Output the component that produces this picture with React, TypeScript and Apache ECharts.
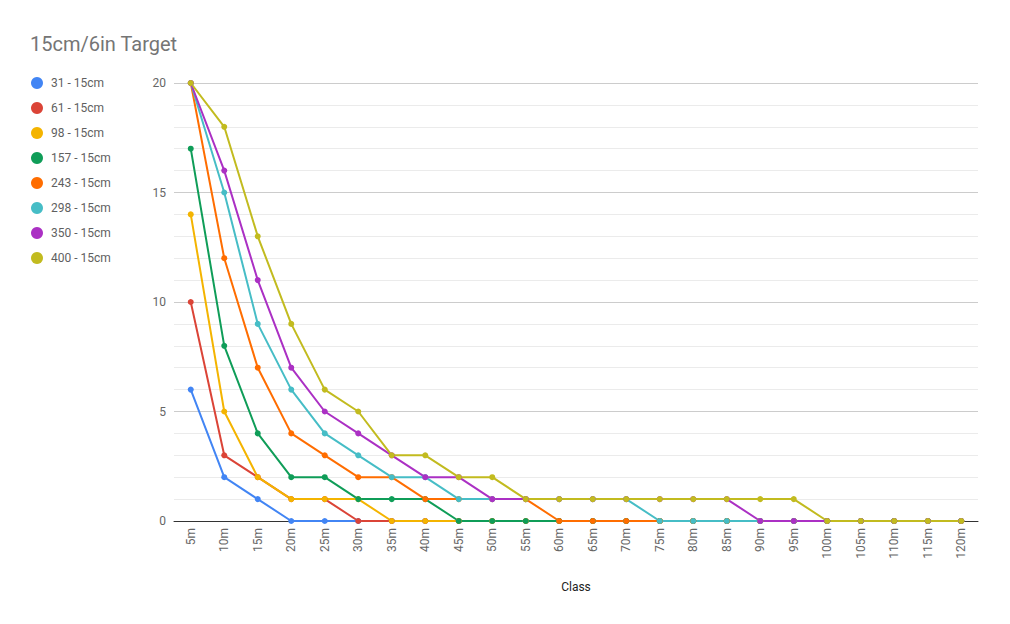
import { useEffect, useRef } from "react";
import * as echarts from "echarts";

const CATEGORIES = [
  "5m", "10m", "15m", "20m", "25m", "30m", "35m", "40m", "45m", "50m", "55m", "60m",
  "65m", "70m", "75m", "80m", "85m", "90m", "95m", "100m", "105m", "110m", "115m", "120m",
];

const SERIES_NAMES = [
  "31 - 15cm", "61 - 15cm", "98 - 15cm", "157 - 15cm",
  "243 - 15cm", "298 - 15cm", "350 - 15cm", "400 - 15cm",
];

const S31 = [6, 2, 1, 0, 0, 0, 0, 0, 0, 0, 0, 0, 0, 0, 0, 0, 0, 0, 0, 0, 0, 0, 0, 0];
const S61 = [10, 3, 2, 1, 1, 0, 0, 0, 0, 0, 0, 0, 0, 0, 0, 0, 0, 0, 0, 0, 0, 0, 0, 0];
const S98 = [14, 5, 2, 1, 1, 1, 0, 0, 0, 0, 0, 0, 0, 0, 0, 0, 0, 0, 0, 0, 0, 0, 0, 0];
const S157 = [17, 8, 4, 2, 2, 1, 1, 1, 0, 0, 0, 0, 0, 0, 0, 0, 0, 0, 0, 0, 0, 0, 0, 0];
const S243 = [20, 12, 7, 4, 3, 2, 2, 1, 1, 1, 1, 0, 0, 0, 0, 0, 0, 0, 0, 0, 0, 0, 0, 0];
const S298 = [20, 15, 9, 6, 4, 3, 2, 2, 1, 1, 1, 1, 1, 1, 0, 0, 0, 0, 0, 0, 0, 0, 0, 0];
const S350 = [20, 16, 11, 7, 5, 4, 3, 2, 2, 1, 1, 1, 1, 1, 1, 1, 1, 0, 0, 0, 0, 0, 0, 0];
const S400 = [20, 18, 13, 9, 6, 5, 3, 3, 2, 2, 1, 1, 1, 1, 1, 1, 1, 1, 1, 0, 0, 0, 0, 0];

const SERIES_VALUES = [S31, S61, S98, S157, S243, S298, S350, S400];

// google sheets palette
const COLORS = [
  "#4285f4", "#db4437", "#f4b400", "#0f9d58",
  "#ff6d00", "#46bdc6", "#ab30c4", "#c2bb1f",
];

const FONT = "Roboto, 'Noto Sans', sans-serif";

function buildOption(): echarts.EChartsOption {
  return {
    animation: false,
    color: COLORS,
    textStyle: { fontFamily: FONT },
    title: {
      text: "15cm/6in Target",
      left: 25,
      top: 29,
      textStyle: { fontSize: 20, fontWeight: "normal", color: "#757575", fontFamily: FONT },
    },
    legend: {
      orient: "vertical",
      left: 26,
      top: 72,
      icon: "circle",
      itemWidth: 12,
      itemHeight: 12,
      itemGap: 13,
      data: SERIES_NAMES,
      textStyle: { fontSize: 12, color: "#5f5f5f", padding: [0, 0, 0, 3] },
    },
    grid: { left: 174, right: 32, top: 83, bottom: 103 },
    xAxis: {
      type: "category",
      data: CATEGORIES,
      boundaryGap: true,
      name: "Class",
      nameLocation: "middle",
      nameGap: 60,
      nameTextStyle: { fontSize: 12, color: "#222222" },
      axisLine: { show: true, lineStyle: { color: "#333333", width: 1 } },
      axisTick: { show: false },
      axisLabel: { rotate: 90, fontSize: 12, color: "#666666", margin: 7, interval: 0 },
    },
    yAxis: {
      type: "value",
      min: 0,
      max: 20,
      interval: 5,
      axisLine: { show: false },
      axisTick: { show: false },
      axisLabel: { fontSize: 12, color: "#666666", margin: 8 },
      splitLine: { lineStyle: { color: "#cccccc" } },
      minorTick: { show: false, splitNumber: 5 },
      minorSplitLine: { show: true, lineStyle: { color: "#ebebeb" } },
    },
    series: SERIES_NAMES.map((name, i) => ({
      name,
      type: "line",
      data: SERIES_VALUES[i],
      symbol: "circle",
      symbolSize: 6,
      showSymbol: true,
      lineStyle: { width: 2 },
    })),
  };
}

export default function App() {
  const ref = useRef<HTMLDivElement | null>(null);

  useEffect(() => {
    const el = ref.current;
    if (!el) return;
    const chart = echarts.init(el, undefined, { renderer: "svg" });
    chart.setOption(buildOption());
    return () => {
      chart.dispose();
    };
  }, []);

  return (
    <div
      ref={ref}
      style={{ position: "fixed", left: 0, top: 0, width: 1010, height: 624, background: "#fff" }}
    />
  );
}
